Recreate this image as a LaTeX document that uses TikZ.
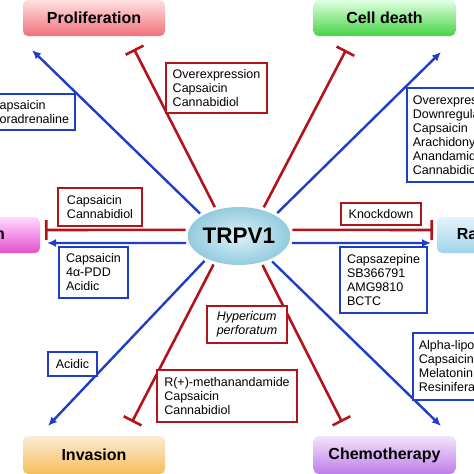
\documentclass[tikz,border=0pt]{standalone}
\usepackage{fontspec}
\setmainfont{Liberation Sans}
\usetikzlibrary{positioning,arrows.meta,shapes.geometric}
\definecolor{trpred}{HTML}{B3141C}
\definecolor{trpblue}{HTML}{1E3EC6}
\definecolor{trpin}{HTML}{DDF1F7}
\definecolor{trpout}{HTML}{93CBDE}
\tikzset{
  act/.style={trpblue,line width=2.4pt,shorten <=3pt,-{Latex[length=9pt,width=8pt]}},
  inh/.style={trpred,line width=2.6pt,shorten <=3pt,-{Bar[width=20pt]}},
  rbox/.style={draw=trpred,line width=1.7pt,fill=white,align=left,
               font=\fontsize{12.5}{14}\selectfont,inner xsep=6pt,inner ysep=4pt},
  bbox/.style={rbox,draw=trpblue},
  target/.style={rounded corners=5pt,minimum width=142pt,minimum height=36pt,
                 inner sep=0pt,font=\fontsize{16}{18}\selectfont\bfseries}
}

\begin{document}
\begin{tikzpicture}[x=1pt,y=-1pt]
  \useasboundingbox (0,0) rectangle (474,474);
  \clip (0,0) rectangle (474,474);

  % ---- centre ----
  \node[ellipse,minimum width=98pt,minimum height=58pt,inner sep=0pt,
        inner color=trpin,outer color=trpout,
        font=\fontsize{22.5}{24}\selectfont\bfseries] (trpv) at (239,236) {TRPV1};

  % ---- outcomes ----
  \node[target,top color=red!12,bottom color={rgb,255:red,240;green,112;blue,122}]
    (prolif) at (94,18) {Proliferation};
  \node[target,top color=green!12,bottom color={rgb,255:red,70;green,212;blue,70}]
    (death) at (384.5,18) {Cell death};
  \node[target,top color=magenta!15,bottom color={rgb,255:red,228;green,80;blue,205}]
    (migr) at (-31,235) {Migration};
  \node[target,top color={rgb,255:red,228;green,244;blue,251},bottom color={rgb,255:red,160;green,212;blue,236}]
    (radio) at (508,235) {Radiotherapy};
  \node[target,minimum height=38pt,top color={rgb,255:red,251;green,236;blue,215},bottom color={rgb,255:red,245;green,190;blue,90}]
    (inva) at (94,455) {Invasion};
  \node[target,minimum height=38pt,top color={rgb,255:red,243;green,228;blue,251},bottom color={rgb,255:red,190;green,125;blue,232}]
    (chemo) at (384.5,455) {Chemotherapy};

  % ---- ends of the connectors ----
  \coordinate (prolA) at (32,50);   \coordinate (prolI) at (134,49);
  \coordinate (deathI) at (346,50); \coordinate (deathA) at (441,52);
  \coordinate (migrI) at (45,230);  \coordinate (migrA) at (47,243);
  \coordinate (radioI) at (433,230);\coordinate (radioA) at (431,243);
  \coordinate (invaA) at (48,426);  \coordinate (invaI) at (132,422);
  \coordinate (chemoI) at (342,422);\coordinate (chemoA) at (441,426);

  \draw[act] (trpv.151) -- (prolA);
  \draw[inh] (trpv.131) -- (prolI);
  \draw[inh] (trpv.48)  -- (deathI);
  \draw[act] (trpv.30)  -- (deathA);
  \draw[inh] (trpv.173) -- (migrI);
  \draw[act] (trpv.188) -- (migrA);
  \draw[inh] (trpv.7)   -- (radioI);
  \draw[act] (trpv.352) -- (radioA);
  \draw[act] (trpv.215) -- (invaA);
  \draw[inh] (trpv.227) -- (invaI);
  \draw[inh] (trpv.310) -- (chemoI);
  \draw[act] (trpv.323) -- (chemoA);

  % ---- labels ----
  \node[rbox,minimum width=101pt,minimum height=50pt] (lbProlI) at (216.5,88)
    {Overexpression\\Capsaicin\\Cannabidiol};
  \node[bbox,anchor=north east,minimum height=36pt] (lbProlA) at (76,93)
    {Capsaicin\\Noradrenaline};
  \node[bbox,anchor=north west,minimum height=94pt] (lbDeathA) at (406,87)
    {Overexpression\\Downregulation\\Capsaicin\\Arachidonyl dopamine\\Anandamide\\Cannabidiol};
  \node[rbox,minimum width=84pt,minimum height=38pt] (lbMigrI) at (100,207)
    {Capsaicin\\Cannabidiol};
  \node[bbox,minimum width=69pt,minimum height=51pt] (lbMigrA) at (93.5,272.5)
    {Capsaicin\\4α-PDD\\Acidic};
  \node[rbox,minimum width=80pt,minimum height=22pt] (lbRadioI) at (381,214)
    {Knockdown};
  \node[bbox,minimum width=87pt,minimum height=66pt] (lbRadioA) at (383.5,280)
    {Capsazepine\\SB366791\\AMG9810\\BCTC};
  \node[rbox,minimum width=80pt,minimum height=37pt,font=\fontsize{12.5}{14}\selectfont\itshape]
    (lbHyp) at (247,324.5) {Hypericum\\perforatum};
  \node[rbox,minimum width=140pt,minimum height=52pt] (lbInvaI) at (227,396)
    {R(+)-methanandamide\\Capsaicin\\Cannabidiol};
  \node[bbox,minimum width=49pt,minimum height=24pt] (lbInvaA) at (72.5,364)
    {Acidic};
  \node[bbox,anchor=north west,minimum height=67pt] (lbChemoA) at (412,332)
    {Alpha-lipoic acid\\Capsaicin\\Melatonin\\Resiniferatoxin};
\end{tikzpicture}
\end{document}
